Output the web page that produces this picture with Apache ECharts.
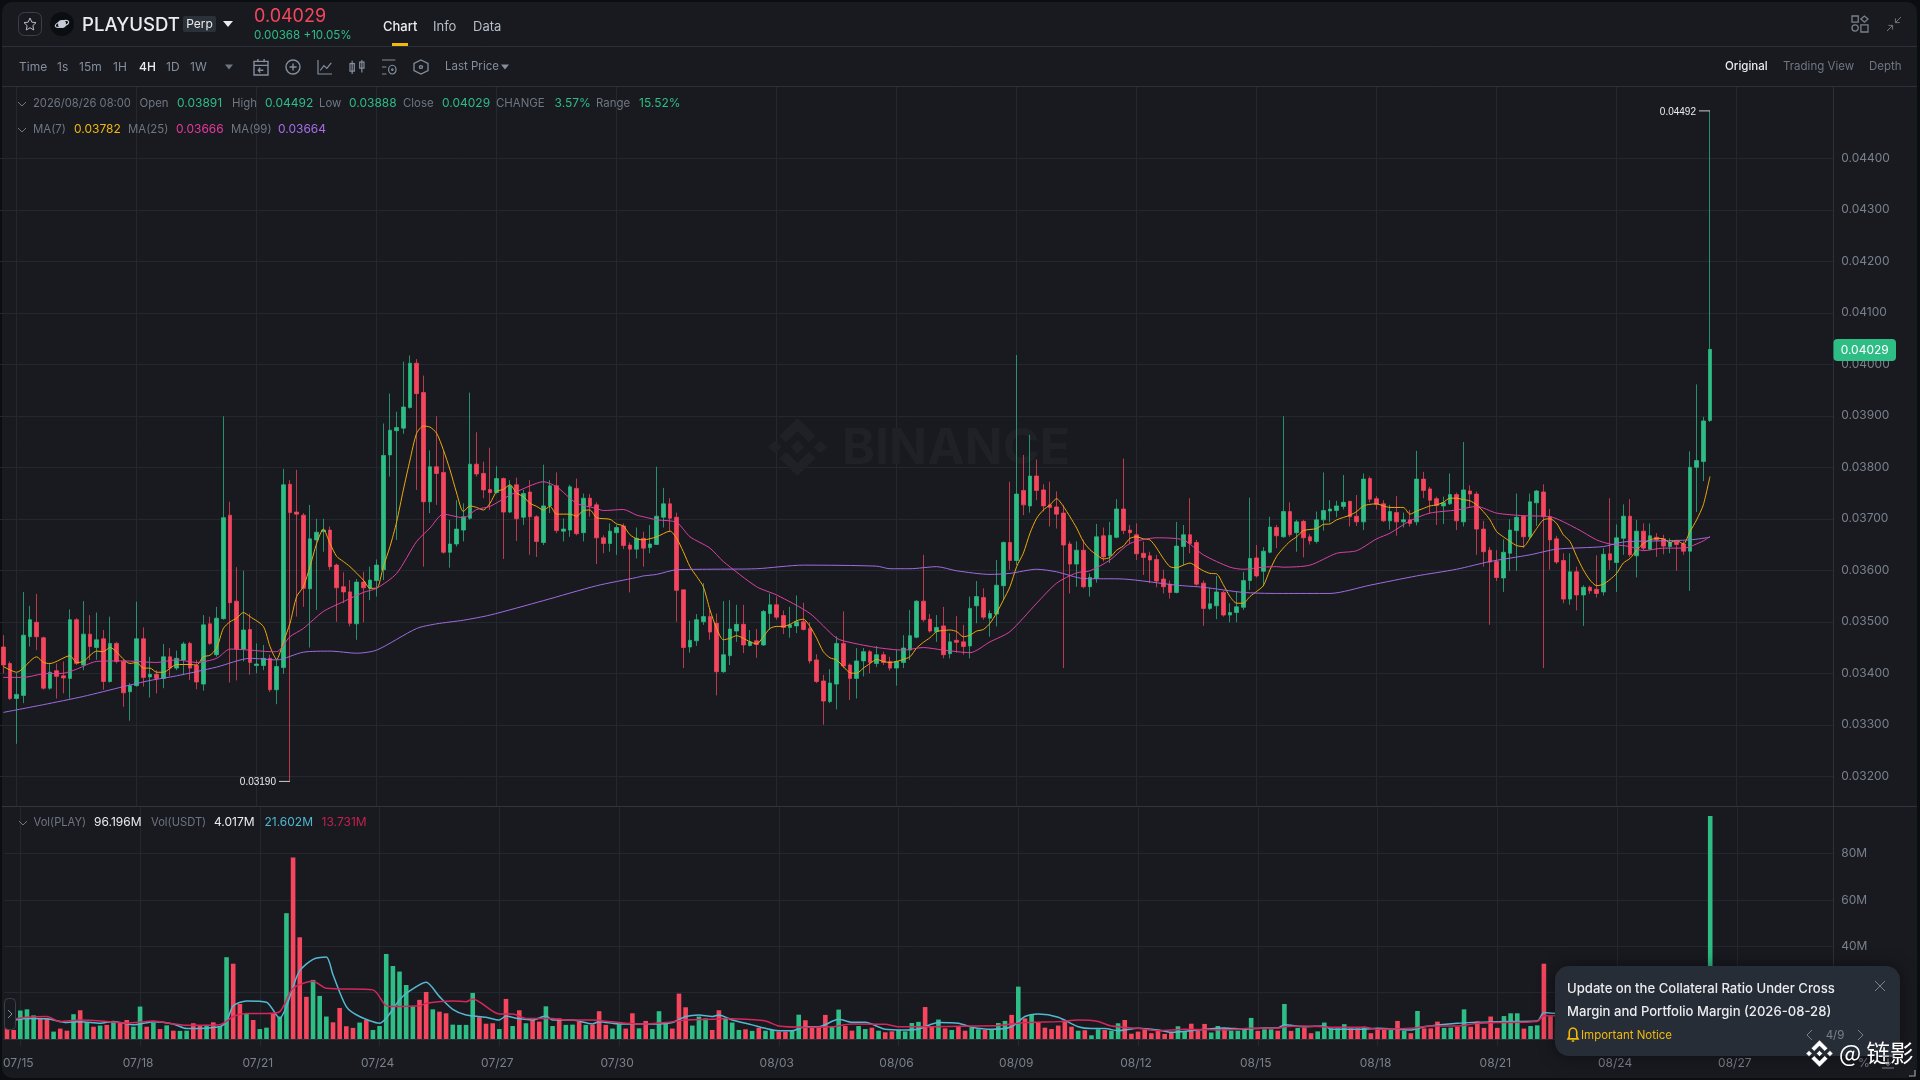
<!DOCTYPE html>
<html><head><meta charset="utf-8"><title>PLAYUSDT Perp</title>
<style>html,body{margin:0;padding:0;background:#0b0e11;overflow:hidden}#c{width:1920px;height:1080px}</style>
<script src="https://cdn.jsdelivr.net/npm/echarts@6/dist/echarts.min.js"></script>
</head><body><div id="c"></div>
<script>
// prices are in units of 0.00001, volumes in millions
const opens=[3451,3419,3351,3357,3471,3499,3469,3371,3405,3395,
3390,3504,3416,3476,3450,3467,3384,3458,3423,3364,
3376,3467,3393,3398,3390,3432,3410,3426,3458,3415,
3379,3496,3436,3506,3707,3540,3447,3485,3415,3415,
3429,3368,3411,3767,3713,3707,3564,3659,3675,3678,
3610,3568,3558,3496,3577,3565,3580,3601,3824,3871,
3876,3916,4002,3945,3733,3801,3790,3635,3651,3678,
3701,3806,3788,3757,3751,3778,3713,3766,3703,3752,
3704,3654,3725,3764,3676,3678,3759,3673,3740,3727,
3663,3652,3673,3686,3649,3641,3662,3644,3650,3703,
3729,3703,3562,3451,3463,3500,3510,3497,3403,3434,
3482,3495,3454,3463,3455,3516,3533,3512,3489,3492,
3500,3487,3426,3385,3345,3379,3458,3416,3390,3424,
3442,3419,3436,3423,3410,3421,3445,3470,3540,3505,
3481,3492,3438,3464,3461,3453,3531,3547,3507,3515,
3570,3654,3619,3755,3725,3783,3756,3727,3723,3711,
3651,3612,3639,3568,3584,3667,3628,3664,3719,3678,
3669,3633,3628,3621,3583,3573,3557,3646,3669,3654,
3575,3526,3531,3557,3513,3518,3528,3580,3624,3598,
3635,3683,3665,3714,3673,3695,3665,3656,3698,3715,
3716,3724,3734,3705,3694,3778,3739,3729,3696,3712,
3694,3698,3694,3777,3758,3739,3725,3729,3747,3694,
3754,3748,3680,3639,3617,3585,3633,3677,3705,3665,
3731,3752,3704,3661,3619,3544,3597,3552,3567,3563,
3558,3632,3615,3662,3705,3628,3676,3641,3664,3661,
3646,3656,3651,3637,3800,3811,3891];
const closes=[3416,3351,3359,3474,3504,3471,3371,3402,3394,3391,
3504,3419,3476,3452,3465,3384,3458,3423,3362,3376,
3467,3392,3398,3390,3432,3410,3429,3457,3410,3383,
3494,3458,3507,3702,3537,3447,3484,3421,3418,3429,
3368,3413,3766,3712,3709,3565,3661,3674,3678,3607,
3566,3558,3497,3577,3566,3581,3610,3823,3872,3877,
3917,4002,3943,3733,3801,3788,3635,3651,3680,3704,
3806,3787,3756,3751,3778,3713,3764,3700,3749,3704,
3656,3725,3764,3677,3680,3762,3671,3740,3725,3663,
3652,3676,3683,3648,3641,3662,3643,3651,3705,3729,
3701,3561,3450,3464,3504,3510,3480,3403,3436,3486,
3495,3455,3461,3456,3520,3533,3509,3489,3494,3500,
3485,3424,3384,3346,3381,3458,3414,3390,3424,3442,
3421,3436,3421,3410,3423,3449,3473,3540,3504,3482,
3489,3436,3461,3460,3452,3526,3549,3509,3516,3571,
3654,3619,3748,3727,3783,3755,3725,3722,3709,3649,
3612,3639,3568,3586,3665,3626,3668,3719,3677,3673,
3632,3625,3620,3579,3568,3557,3647,3669,3652,3573,
3526,3535,3558,3513,3518,3529,3580,3623,3589,3637,
3684,3667,3714,3669,3694,3663,3657,3698,3716,3719,
3725,3732,3704,3694,3777,3738,3728,3696,3714,3694,
3698,3691,3777,3755,3736,3726,3731,3747,3696,3756,
3748,3680,3636,3616,3586,3635,3678,3703,3665,3733,
3754,3704,3659,3616,3544,3597,3552,3567,3560,3555,
3631,3620,3663,3705,3630,3676,3643,3667,3659,3647,
3654,3650,3637,3800,3813,3890,4029];
const highs=[3474,3423,3400,3558,3531,3554,3471,3419,3419,3423,
3524,3507,3540,3513,3518,3484,3510,3461,3426,3381,
3539,3489,3432,3406,3457,3449,3444,3461,3461,3426,
3513,3510,3529,3899,3733,3606,3599,3516,3458,3455,
3436,3426,3797,3775,3795,3711,3727,3700,3700,3685,
3613,3596,3581,3583,3597,3607,3621,3885,3943,3908,
4005,4017,4010,3978,3833,3899,3833,3698,3736,3730,
3945,3868,3811,3838,3802,3780,3775,3780,3756,3775,
3707,3805,3775,3790,3701,3766,3778,3749,3748,3732,
3668,3691,3688,3691,3654,3683,3675,3688,3801,3760,
3740,3712,3562,3502,3515,3575,3523,3516,3540,3542,
3533,3533,3484,3486,3523,3555,3549,3522,3529,3551,
3537,3499,3437,3397,3408,3472,3520,3419,3449,3449,
3445,3453,3442,3432,3445,3474,3523,3542,3630,3515,
3513,3529,3478,3511,3494,3549,3579,3565,3522,3620,
3656,3772,4018,3824,3863,3815,3767,3772,3753,3727,
3656,3656,3659,3594,3690,3683,3694,3738,3817,3688,
3691,3656,3636,3630,3601,3580,3694,3688,3740,3659,
3580,3565,3589,3560,3536,3558,3597,3741,3649,3645,
3704,3688,3899,3732,3698,3698,3670,3714,3790,3736,
3735,3785,3734,3746,3788,3782,3744,3736,3727,3744,
3712,3717,3832,3791,3762,3743,3743,3788,3751,3849,
3765,3753,3696,3645,3639,3660,3699,3749,3707,3749,
3756,3767,3719,3667,3633,3633,3607,3571,3570,3629,
3643,3740,3689,3728,3738,3698,3691,3691,3672,3669,
3662,3659,3656,3831,3961,3898,4492];
const lows=[3400,3348,3263,3342,3452,3445,3368,3368,3351,3361,
3351,3416,3406,3426,3426,3368,3382,3419,3335,3308,
3374,3374,3353,3361,3371,3394,3406,3397,3387,3369,
3366,3455,3432,3504,3382,3386,3423,3397,3400,3406,
3364,3340,3399,3190,3510,3529,3450,3523,3636,3601,
3500,3536,3491,3465,3499,3542,3549,3581,3782,3659,
3865,3914,3756,3607,3711,3727,3632,3605,3646,3656,
3698,3782,3740,3717,3749,3622,3711,3657,3688,3630,
3626,3649,3711,3672,3656,3665,3668,3656,3704,3612,
3633,3636,3630,3641,3557,3623,3607,3633,3649,3683,
3675,3500,3410,3440,3453,3494,3465,3357,3401,3416,
3461,3439,3452,3430,3453,3484,3504,3476,3469,3478,
3483,3419,3381,3300,3342,3330,3410,3348,3351,3394,
3400,3412,3416,3405,3376,3410,3426,3468,3500,3479,
3461,3429,3429,3440,3436,3429,3497,3504,3471,3491,
3542,3601,3610,3707,3712,3736,3714,3685,3681,3410,
3555,3568,3565,3549,3576,3617,3614,3662,3670,3652,
3620,3591,3575,3567,3555,3545,3555,3610,3633,3570,
3492,3523,3505,3510,3499,3499,3523,3562,3586,3569,
3633,3643,3663,3665,3636,3625,3650,3652,3677,3693,
3703,3718,3685,3686,3678,3732,3718,3694,3679,3667,
3683,3685,3687,3740,3711,3688,3690,3727,3678,3685,
3723,3630,3607,3494,3579,3558,3599,3599,3643,3659,
3686,3410,3601,3612,3536,3533,3522,3492,3554,3547,
3551,3601,3558,3630,3626,3586,3639,3639,3626,3631,
3633,3599,3630,3560,3713,3773,3888];
const volumes=[5.1,3.9,12.3,12.8,10.2,8.9,8.9,3.2,4.5,3.6,
10.7,12.4,7.2,5.3,5.8,6.1,7.5,7.1,8.2,5.3,
14.0,5.3,7.1,4.3,5.9,3.6,3.5,3.6,6.8,5.8,
6.1,7.2,5.6,35.3,32.5,15.1,11.1,8.2,4.3,4.9,
11.1,9.7,54.3,78.3,43.9,18.2,25.5,18.6,9.7,7.2,
13.4,5.5,4.8,7.1,8.2,3.9,5.6,36.7,31.5,29.1,
23.3,14.0,16.9,20.3,12.8,11.8,11.1,6.2,6.1,6.1,
19.9,9.4,6.6,6.8,4.3,17.3,5.6,12.4,6.8,8.2,
7.5,14.1,5.6,8.9,6.1,6.2,7.5,6.1,6.1,12.0,
6.1,4.5,6.4,4.5,11.1,4.6,7.8,4.3,12.0,6.5,
4.5,19.6,13.7,5.8,9.7,8.9,3.9,12.4,8.9,7.1,
3.9,4.2,3.5,4.8,3.6,3.9,3.2,3.2,3.6,10.5,
8.1,5.3,4.8,10.4,5.3,12.7,5.6,3.6,5.6,4.3,
4.9,3.6,2.9,3.3,3.9,3.3,6.9,7.4,13.8,5.3,
8.4,4.6,3.9,5.3,3.6,4.9,4.2,3.9,4.3,6.9,
7.8,10.4,22.6,8.9,10.4,7.1,4.9,4.3,5.8,7.5,
5.3,3.6,3.8,1.6,4.2,3.9,3.6,6.8,8.2,2.3,
3.2,3.9,2.5,3.9,2.2,2.8,5.5,3.2,6.6,3.5,
6.5,2.8,5.6,4.6,3.6,3.6,3.9,9.1,3.5,4.2,
4.2,3.6,15.1,3.5,4.8,4.8,2.5,3.3,7.1,4.6,
4.6,6.4,4.6,4.6,5.3,2.5,3.9,4.2,3.9,7.8,
3.6,2.5,12.1,4.6,4.6,7.5,4.8,4.9,5.3,12.8,
5.3,7.6,4.8,9.7,4.8,9.9,11.1,11.1,4.5,5.6,
5.9,32.5,9.9,5.9,6.5,5.5,7,4,3.5,4.5,
8,9,10,6,7,5,4,3,3,3,
3,4,4,28,24,22,96.2];
// moving averages, read as [candle number, value]
const ma7=[[0,3413],[2,3402],[5,3432],[6,3421],[7,3419],[10,3434],[11,3421],[12,3423],[14,3443],[15,3442],[16,3450],[19,3419],[20,3421],[21,3410],[22,3410],[23,3402],[24,3402],[26,3417],[28,3417],[29,3416],[30,3432],[31,3435],[32,3449],[33,3487],[34,3500],[35,3507],[36,3518],[37,3510],[39,3491],[40,3452],[41,3427],[42,3461],[43,3497],[44,3549],[45,3568],[46,3607],[47,3652],[48,3680],[49,3652],[50,3627],[51,3617],[52,3607],[54,3581],[55,3565],[56,3565],[57,3607],[58,3646],[59,3694],[60,3756],[61,3814],[62,3866],[63,3880],[64,3878],[65,3866],[66,3834],[67,3795],[68,3750],[69,3714],[70,3725],[71,3722],[72,3717],[73,3730],[74,3753],[75,3757],[76,3766],[77,3750],[78,3743],[79,3730],[80,3724],[81,3717],[82,3724],[83,3709],[85,3709],[86,3705],[87,3716],[88,3717],[89,3702],[91,3699],[92,3690],[93,3686],[94,3669],[95,3661],
[96,3659],[98,3665],[100,3676],[101,3662],[102,3636],[103,3607],[104,3588],[105,3568],[106,3523],[107,3487],[108,3465],[109,3468],[110,3473],[111,3468],[112,3461],[113,3457],[114,3471],[115,3487],[116,3491],[117,3491],[118,3495],[119,3502],[120,3505],[121,3491],[122,3468],[123,3442],[124,3430],[125,3426],[126,3413],[127,3401],[128,3400],[129,3410],[130,3419],[131,3427],[132,3423],[133,3421],[134,3423],[135,3427],[136,3432],[137,3449],[138,3460],[139,3469],[140,3481],[141,3483],[142,3484],[143,3481],[144,3471],[145,3474],[146,3482],[147,3485],[148,3497],[149,3517],[150,3542],[151,3568],[152,3607],[153,3633],[154,3672],[155,3701],[156,3717],[157,3727],[158,3739],[159,3724],[160,3704],[161,3682],[162,3656],[163,3640],[164,3630],[165,3622],[166,3625],[167,3639],[168,3647],[169,3662],[170,3665],[171,3661],[172,3659],[173,3643],[174,3623],[175,3607],[176,3605],[177,3610],[178,3614],[179,3607],[180,3599],[181,3594],[182,3593],[183,3572],[184,3549],[185,3536],[186,3536],[187,3549],[188,3559],[189,3570],[190,3601],[191,3627],
[192,3643],[193,3656],[194,3665],[195,3677],[197,3681],[198,3689],[199,3690],[200,3698],[202,3707],[203,3714],[204,3725],[205,3728],[206,3729],[207,3725],[208,3722],[210,3722],[211,3709],[212,3715],[213,3720],[214,3725],[215,3727],[216,3732],[217,3740],[218,3740],[219,3737],[220,3735],[221,3727],[222,3714],[223,3698],[224,3675],[225,3665],[226,3656],[227,3648],[228,3646],[229,3662],[230,3681],[231,3698],[232,3700],[233,3691],[234,3669],[235,3656],[236,3627],[237,3601],[238,3581],[239,3570],[240,3573],[241,3582],[242,3594],[243,3614],[244,3623],[245,3639],[246,3652],[247,3659],[248,3662],[249,3661],[250,3654],[251,3658],[252,3651],[253,3675],[254,3698],[255,3727],[256,3782]];
const ma25=[[0,3392],[3,3392],[6,3399],[9,3400],[11,3408],[14,3423],[18,3424],[23,3421],[26,3426],[29,3421],[32,3429],[34,3447],[37,3445],[40,3442],[41,3442],[43,3471],[45,3487],[48,3520],[51,3539],[54,3557],[56,3565],[59,3594],[62,3656],[64,3682],[66,3709],[69,3702],[71,3718],[73,3724],[76,3746],[79,3764],[81,3772],[83,3762],[86,3730],[89,3720],[90,3716],[93,3718],[95,3707],
[96,3704],[98,3698],[101,3693],[103,3665],[106,3643],[108,3617],[113,3568],[116,3552],[121,3516],[125,3468],[127,3460],[131,3450],[135,3445],[138,3450],[141,3445],[145,3440],[148,3461],[151,3481],[155,3536],[158,3575],[161,3595],[163,3599],[166,3620],[169,3652],[173,3663],[177,3659],[180,3630],[184,3606],[186,3602],[189,3606],[191,3607],
[192,3606],[196,3610],[200,3633],[203,3638],[206,3661],[208,3672],[211,3696],[214,3711],[218,3717],[221,3724],[224,3711],[228,3706],[232,3704],[236,3681],[239,3659],[241,3651],[244,3646],[246,3638],[249,3643],[252,3643],[255,3657],[256,3666]];
const ma99=[[0,3324],[6,3339],[12,3355],[18,3374],[22,3386],[26,3395],[32,3412],[37,3429],[41,3426],[45,3441],[49,3443],[53,3439],[56,3445],[62,3487],[65,3496],[69,3503],[73,3513],[81,3541],[89,3570],[95,3586],
[96,3589],[98,3592],[101,3601],[106,3602],[113,3603],[120,3610],[131,3608],[133,3603],[136,3603],[140,3607],[143,3599],[148,3592],[151,3594],[155,3602],[158,3597],[162,3584],[168,3583],[176,3571],[180,3567],[186,3557],[191,3555],
[192,3555],[199,3555],[205,3571],[212,3589],[218,3602],[223,3617],[229,3630],[233,3641],[240,3646],[243,3655],[248,3657],[253,3659],[256,3664]];
const volMaShort=[[0,7.5],[3,8.9],[6,8.7],[9,7.1],[11,7.5],[14,6.8],[16,7.6],[19,6.1],[22,7.5],[25,6.5],[27,4.5],[32,5.3],[33,7.5],[34,14.3],[36,16.4],[39,15.9],[41,8.9],[42,14.0],[43,22.6],[44,29.5],[46,34.4],[48,35.4],[49,27.7],[51,14.0],[53,9.7],[56,6.8],[59,16.9],[60,19.7],[63,24.5],[65,18.3],[67,12.8],[69,10.4],[72,9.4],[74,8.2],[75,9.9],[77,8.7],[79,8.2],[81,9.9],[82,8.2],[85,8.2],[88,6.5],[89,7.5],[92,6.5],[95,6.5],
[96,6.5],[98,6.5],[100,7.1],[102,9.7],[104,10.4],[106,9.7],[107,10.4],[109,8.2],[112,6.1],[114,4.6],[116,3.6],[118,3.6],[120,5.3],[122,5.3],[125,8.5],[127,7.2],[129,7.2],[132,4.2],[135,3.9],[137,4.3],[140,7.1],[143,6.8],[145,5.1],[148,4.2],[151,5.3],[153,9.7],[155,10.8],[158,9.4],[161,5.3],[163,4.5],[165,4.5],[167,3.6],[170,4.6],[173,3.9],[175,2.9],[179,3.9],[183,4.8],[186,4.2],[189,4.8],[191,4.8],
[192,6.1],[195,5.3],[198,5.6],[199,4.2],[204,4.2],[206,4.6],[211,3.9],[213,5.3],[218,6.8],[224,7.5],[230,7.8],[231,11.4],[233,11.1],[240,13],[245,10],[250,7],[253,8],[256,21.6]];
const volMaLong=[[0,8.2],[3,9.4],[6,9.7],[8,7.5],[11,8.2],[14,7.8],[18,6.8],[22,7.8],[25,6.5],[27,5.9],[32,6.2],[34,9.7],[36,11.0],[39,11.0],[41,11.8],[43,21.9],[46,24.9],[48,21.9],[55,21.2],[57,14.3],[58,14.0],[62,14.3],[63,15.4],[67,16.4],[69,16.1],[70,17.3],[74,10.8],[76,10.8],[78,8.9],[82,8.9],[84,8.2],[88,8.2],[91,7.4],[95,6.5],
[96,6.5],[99,7.1],[102,8.2],[106,8.5],[108,8.9],[111,8.5],[114,7.8],[116,5.6],[120,5.1],[124,5.3],[127,6.5],[132,6.4],[134,5.3],[138,5.3],[145,5.6],[149,5.8],[153,7.1],[158,7.5],[161,8.2],[164,7.6],[166,5.6],[170,4.6],[173,3.6],[177,4.2],[183,3.9],[187,4.6],[191,4.6],
[192,5.3],[195,5.6],[199,5.1],[204,5.1],[206,4.2],[211,4.6],[214,5.6],[218,5.6],[221,6.8],[224,7.1],[230,7.6],[231,10.0],[233,10.0],[240,10],[248,9],[253,8],[256,13.7]];
const extremes=[[256,4492],[43,3190]];
const priceTicks=[3200,3300,3400,3500,3600,3700,3800,3900,4000,4100,4200,4300,4400];
const volTicks=[20,40,60,80];
const dateTicks=['07/15','07/18','07/21','07/24','07/27','07/30','08/03','08/06','08/09','08/12','08/15','08/18','08/21','08/24','08/27'];

// 4H categories, first candle 07/14 16:00
const categories=[];
for(let i=0;i<275;i++){
  const d=new Date(Date.UTC(2026,6,14,16)+i*4*3600e3);
  const md=String(d.getUTCMonth()+1).padStart(2,'0')+'/'+String(d.getUTCDate()).padStart(2,'0');
  categories.push(d.getUTCHours()===0?md:md+' '+d.getUTCHours());
}
const isTick=(i,v)=>dateTicks.includes(v);
const UP='#2EBD85',DOWN='#F6465D',GRID='#23272e',LINE='#2b3139',MUTE='#6f7680',TICK='#7a808a',WHITE='#EAECEF';
const px=a=>a.map(([i,v])=>[i,v/1e5]);
const candleData=opens.map((o,i)=>[o/1e5,closes[i]/1e5,lows[i]/1e5,highs[i]/1e5]);
const volData=volumes.map((v,i)=>({value:v,itemStyle:{color:closes[i]>=opens[i]?UP:DOWN}}));

const F='Inter, "Noto Sans", sans-serif';
const G=[],PATH_LOW=[],PATH_HIGH=[];
function T(text,x,y,fill,size,o={}){G.push({type:'text',z:o.z||50,x,y:y+1,silent:true,style:{text,fill,font:(o.w||'400')+' '+size+'px '+(o.f||F),textAlign:o.a||'left',textVerticalAlign:'middle',shadowBlur:o.sb||0,shadowColor:o.sc||'transparent'}});}
function L(x1,y1,x2,y2,stroke,w=1,z=50){G.push({type:'line',z,silent:true,shape:{x1,y1,x2,y2},style:{stroke,lineWidth:w}});}
function R(x,y,width,height,r,fill,stroke,z=50,extra={}){G.push({type:'rect',z,silent:true,shape:{x,y,width,height,r},style:Object.assign({fill:fill||'none',stroke:stroke||'none',lineWidth:1},extra)});}
function P(d,x,y,width,height,fill,stroke,w=1.2,z=50){(z<5?PATH_LOW:PATH_HIGH).push({type:'path',shape:{pathData:d,layout:'cover',x,y,width,height},style:{fill:fill||'none',stroke:stroke||'none',lineWidth:w}});}
function TRI(cx,cy,s,fill){P('M0 0H10L5 6Z',cx-s,cy-s*0.6,s*2,s*1.2,fill);}
function CHEV(x,y,c){P('M0 0L4 4L8 0',x-4,y-1,8,4,null,c,1);}
const LOGO='M38.73 53.2l24.59-24.58 24.6 24.6 14.3-14.31L63.32 0 24.42 38.9l14.31 14.3zM0 63.31l14.3-14.31 14.31 14.31-14.31 14.3L0 63.31zM38.73 73.41l24.59 24.59 24.6-24.6 14.31 14.29h-.01L63.32 126.61 24.42 87.72l-.02-.02 14.33-14.29zM98.01 63.31l14.3-14.3 14.3 14.3-14.3 14.3-14.3-14.3zM77.83 63.3h.01l-14.52-14.52-10.73 10.73-1.23 1.23-2.54 2.54-.02.02.02.03 14.5 14.5 14.52-14.52.01-.01z';

// base panel + watermark
R(2,2,1915,1076,10,'#181a20',null,-10);
P(LOGO,768,418,59,58,'#1f2126',null,0,1);
T('BINANCE',842,447.5,'#1f2126',50,{w:'700',z:1});

// header
L(2,46.5,1917,46.5,LINE,1);L(2,86.5,1917,86.5,LINE,1);L(2,806.5,1917,806.5,'#2f353e',1,20);
R(18.5,12.5,23,23,6,null,'#3a4049');
P('M12 2l3 6.6 7 .8-5.2 4.8 1.4 7L12 17.6 5.8 21.2l1.4-7L2 9.4l7-.8z',24,18,12,12,null,'#b7bdc6',1);
G.push({type:'circle',z:50,silent:true,shape:{cx:62,cy:24,r:12},style:{fill:'#0b0e11'}});
G.push({type:'circle',z:51,silent:true,shape:{cx:62,cy:24,r:4},style:{fill:'#c7ccd4'}});
G.push({type:'ellipse',z:51,silent:true,shape:{cx:62,cy:24,rx:7,ry:2.6},rotation:0.35,originX:62,originY:24,style:{fill:'none',stroke:'#c7ccd4',lineWidth:1.2}});
T('PLAYUSDT',82,24.5,WHITE,18.6,{w:'500'});
R(183,16,33,16,2,'#2b3139');
T('Perp',199.5,23.5,WHITE,12,{a:'center'});
TRI(228,24,5,WHITE);
T('0.04029',254,16,DOWN,18);
T('0.00368 +10.05%',254,35,UP,11.6);
T('Chart',383,26,WHITE,13,{w:'500'});
T('Info',433,26,'#b7bdc6',13);T('Data',473,26,'#b7bdc6',13);
R(392,43,16,3,0,'#F0B90B');
// top right icons
P('M1 1H8V8H1ZM11 4.5L15 1L19 4.5L15 8ZM4.5 11A3.5 3.5 0 1 1 4.49 11ZM11 11H19V19H11Z',1852,16,16,16,null,'#7a808a',1.3);
P('M11 1L7 5M7 2V5H10M1 11L5 7M5 10V7H2',1887,17,14,14,null,'#6f7680',1);

// toolbar
const tfLabels=['Time','1s','15m','1H','4H','1D','1W'],tfX=[19,57,79,113,139,166,190];
tfLabels.forEach((t,i)=>T(t,tfX[i],66,t==='4H'?WHITE:'#848e9c',12,{w:t==='4H'?'500':'400'}));
TRI(229,67,4,'#6f7680');
P('M3 5H21V22H3ZM3 10H21M8 2V6M16 2V6M15 16H9M11 13L8.5 16L11 19',254,59,14,16,null,'#848e9c',1.4);
P('M12 2A10 10 0 1 1 11.9 2ZM12 7V17M7 12H17',286,60,14,14,null,'#848e9c',1.4);
P('M3 2V22H22M6 17L11 10L15 14L21 6',318,60,14,14,null,'#848e9c',1.2);
P('M6 7H10V17H6ZM8 3V21M15 5H19V13H15ZM17 2V19',350,60,14,14,null,'#848e9c',1.2);
P('M3 4H21M3 12H9M3 20H9M17 10A5 5 0 1 1 16.9 10ZM17 14A1 1 0 1 1 16.9 14Z',382,60,14,14,null,'#848e9c',1.2);
P('M12 2L21 7V17L12 22L3 17V7ZM12 10A2 2 0 1 1 11.9 10Z',414,60,14,14,null,'#848e9c',1.3);
T('Last Price',445,66,'#848e9c',11.5);TRI(505,67,4,'#848e9c');
T('Original',1725,66,WHITE,11.5,{w:'500'});T('Trading View',1783,66,'#6f7680',11.5);T('Depth',1869,66,'#6f7680',11.5);

// info rows
CHEV(22,103,MUTE);
T('2026/08/26 08:00',33,102.5,MUTE,11.2);
[['Open',139.5,'0.03891',177],['High',232,'0.04492',265],['Low',319,'0.03888',349],['Close',403,'0.04029',442],['CHANGE',496,'3.57%',554.5],['Range',596,'15.52%',639]].forEach(([a,x,b,x2])=>{T(a,x,102.5,MUTE,11.4);T(b,x2,102.5,UP,12);});
CHEV(22,129,MUTE);
[['MA(7)',33,'0.03782',74,'#F0B90B'],['MA(25)',128,'0.03666',176,'#E6399B'],['MA(99)',231,'0.03664',278,'#A66DE8']].forEach(([a,x,b,x2,c])=>{T(a,x,128.5,MUTE,11.4);T(b,x2,128.5,c,12);});
CHEV(23,822,MUTE);
T('Vol(PLAY)',33.5,821.5,MUTE,11.2);T('96.196M',94,821.5,WHITE,12);T('Vol(USDT)',151,821.5,MUTE,11.2);T('4.017M',214,821.5,WHITE,12);T('21.602M',264.5,821.5,'#4FB8D0',12);T('13.731M',321.6,821.5,'#C2224E',12);
// collapse handle
R(4.5,998.5,11,31,4,'#181a20','#3a4049');
P('M0 0L4 4L0 8',8,1010,4,8,null,'#848e9c',1);

// last price tag
R(1833.5,339,62.5,22,4,UP,null,40);
T('0.04029',1864.7,349.5,'#fff',12,{a:'center',z:41});

// notification card
R(1555,966,345,90,14,'#272d36',null,60,{shadowBlur:18,shadowColor:'rgba(0,0,0,.45)'});
T('Update on the Collateral Ratio Under Cross',1567,988.5,WHITE,13.1,{z:61,w:'500'});
T('Margin and Portfolio Margin (2026-08-28)',1567,1011.5,WHITE,13.1,{z:61,w:'500'});
P('M12 3A6 6 0 0 1 18 9V15L20 18H4L6 15V9A6 6 0 0 1 12 3ZM10 21H14',1568,1028,10,13,null,'#F0B90B',1.6,61);
T('Important Notice',1581,1034.5,'#F0B90B',11.5,{z:61});
P('M5 0L0 5L5 10',1807,1030,5,10,null,'#7a808a',1,61);
T('4/9',1835,1034.5,'#7a808a',11.5,{a:'center',z:61});
P('M0 0L5 5L0 10',1858,1030,5,10,null,'#7a808a',1,61);
P('M0 0L10 10M10 0L0 10',1875,981,10,10,null,'#7a808a',1,61);
// bottom-right percent/log controls under the stamp
T('%',1858,1062,'#7a808a',12,{z:40});
P('M0 0H12M6 2V8M3 6L6 9L9 6M0 11H12',1882,1056,12,12,null,'#7a808a',1,40);
// corner mark
P('M6 0V6H0',1909,1070,6,6,null,'#9aa0a8',1.2,40);
// site stamp
P(LOGO,1806,1040,27,27,'#fff','#181a20',0.5,70);
T('@ 链影',1839,1052,'#fff',23.5,{z:70,f:'"Noto Sans CJK SC", sans-serif',sb:3,sc:'#000'});

const chart=echarts.init(document.getElementById('c'),null,{width:1920,height:1080});
const yBase={type:'value',position:'right',scale:true,axisLine:{show:true,lineStyle:{color:LINE}},axisTick:{show:false},splitLine:{show:true,lineStyle:{color:GRID,width:1}}};
const xBase={type:'category',data:categories,boundaryGap:true,axisTick:{show:false},
  splitLine:{show:true,alignWithLabel:true,interval:isTick,lineStyle:{color:GRID,width:1}}};
function lineS(name,data,color,w,xi){return {name,type:'line',data,xAxisIndex:xi,yAxisIndex:xi,showSymbol:false,symbol:'none',smooth:0.25,silent:true,animation:false,lineStyle:{color,width:w},z:xi?4:5};}
function iconS(name,list,z){return {name,type:'custom',coordinateSystem:'none',data:[[0]],z,silent:true,clip:false,renderItem:()=>({type:'group',children:list})};}
chart.setOption({
  animation:false,backgroundColor:'#0b0e11',
  graphic:{elements:G},
  grid:[{left:0,width:1833.3,top:87,height:719.5},{left:0,width:1833.3,top:807,height:239}],
  xAxis:[
    Object.assign({},xBase,{gridIndex:0,axisLine:{show:false},axisLabel:{show:false}}),
    Object.assign({},xBase,{gridIndex:1,axisLine:{show:true,lineStyle:{color:LINE}},
      axisLabel:{interval:isTick,color:TICK,fontFamily:F,fontSize:12,margin:11,hideOverlap:false,padding:[0,4,0,0]}})
  ],
  yAxis:[
    Object.assign({},yBase,{gridIndex:0,min:0.031413,max:0.045384,
      axisTick:{show:false,customValues:priceTicks.map(v=>v/1e5)},
      axisLabel:{customValues:priceTicks.map(v=>v/1e5),color:TICK,fontFamily:F,fontSize:12,margin:8,showMinLabel:true,showMaxLabel:true,padding:[1,0,0,0],formatter:v=>v.toFixed(5)}}),
    Object.assign({},yBase,{gridIndex:1,min:-3.02,max:100.13,
      axisTick:{show:false,customValues:volTicks},
      axisLabel:{customValues:volTicks,color:TICK,fontFamily:F,fontSize:12,margin:8,padding:[1,0,0,0],formatter:v=>v+'M'}})
  ],
  series:[
    iconS('watermark',PATH_LOW,1),
    {name:'PLAYUSDT',type:'candlestick',xAxisIndex:0,yAxisIndex:0,data:candleData,barWidth:4.4,silent:true,
      itemStyle:{color:UP,color0:DOWN,borderColor:'rgba(46,189,133,0.72)',borderColor0:'rgba(246,70,93,0.72)',borderWidth:1}},
    lineS('MA(7)',px(ma7),'#F0A90B',1,0),
    lineS('MA(25)',px(ma25),'#DC40A4',1,0),
    lineS('MA(99)',px(ma99),'#A06BE0',1,0),
    {name:'Extremes',type:'custom',xAxisIndex:0,yAxisIndex:0,z:6,silent:true,clip:false,
      data:extremes.map(([i,v])=>[i,v/1e5]),
      renderItem:(p,api)=>{const c=api.coord([api.value(0),api.value(1)]);
        return {type:'group',children:[
          {type:'line',shape:{x1:c[0]-11,y1:c[1],x2:c[0],y2:c[1]},style:{stroke:'#c9ccd1',lineWidth:1}},
          {type:'text',x:c[0]-14,y:c[1]+1,style:{text:api.value(1).toFixed(5),fill:WHITE,font:'10px "Liberation Sans"',textAlign:'right',textVerticalAlign:'middle'}}
        ]};}},
    {name:'Vol',type:'bar',xAxisIndex:1,yAxisIndex:1,data:volData,barWidth:4.6,silent:true},
    lineS('Vol MA short',volMaShort,'#55B8D2',1.5,1),
    lineS('Vol MA long',volMaLong,'#D5275A',1.5,1),
    iconS('icons',PATH_HIGH,100)
  ]
});
</script></body></html>
